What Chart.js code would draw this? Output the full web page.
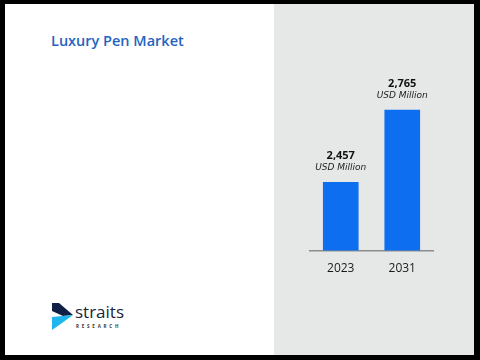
<!DOCTYPE html>
<html>
<head>
<meta charset="utf-8">
<script src="https://cdn.jsdelivr.net/npm/chart.js@4/dist/chart.umd.min.js"></script>
<style>
  html, body { margin:0; padding:0; width:480px; height:360px; background:#000; overflow:hidden; }
  #page { position:absolute; left:5px; top:4px; width:469px; height:351px; background:#ffffff; }
  #gray { position:absolute; left:274px; top:4px; width:200px; height:351px; background:#e6e8e8; }
  #title { position:absolute; left:51px; top:31px; font-family:"Open Sans", sans-serif; font-weight:600; font-size:14.5px; color:#2563c2; white-space:nowrap; }
  #wrap { position:absolute; left:274px; top:4px; width:200px; height:351px; }
  #logo { position:absolute; left:51px; top:302px; width:80px; height:30px; }
  #logo .word { position:absolute; left:24px; top:-2px; font-family:"Open Sans", sans-serif; font-size:17px; font-weight:500; color:#1b1f3b; }
  #logo .sub { position:absolute; left:25px; top:21px; font-family:"Open Sans", sans-serif; font-size:4.5px; font-weight:700; color:#333; letter-spacing:2.8px; }
</style>
</head>
<body>
<div id="page"></div>
<div id="gray"></div>
<div id="title">Luxury Pen Market</div>
<div id="logo">
  <svg width="24" height="30" viewBox="0 0 24 30" style="position:absolute;left:0;top:0">
    <polygon points="1,1 8,1 22,13 12,14 1,9" fill="#0f1f45"/>
    <polygon points="1,15 22,13 11,21 1,28" fill="#1fb6ee"/>
  </svg>
  <div class="word">straits</div>
  <div class="sub">RESEARCH</div>
</div>
<div id="wrap"><canvas id="c" width="200" height="351"></canvas></div>
<script>
const categories = ["2023", "2031"];
const values = [2457, 2765];
const unitLabel = "USD Million";

const labelPlugin = {
  id: 'valueLabels',
  afterDatasetsDraw(chart) {
    const ctx = chart.ctx;
    const meta = chart.getDatasetMeta(0);
    ctx.save();
    ctx.textAlign = 'center';
    ctx.textBaseline = 'middle';
    meta.data.forEach((bar, i) => {
      ctx.fillStyle = '#111';
      ctx.font = 'bold 11px "Open Sans", sans-serif';
      ctx.fillText(values[i].toLocaleString('en-US'), bar.x, bar.y - 26.5);
      ctx.font = 'italic 9px "DejaVu Sans", sans-serif';
      ctx.fillStyle = '#222';
      ctx.fillText(unitLabel, bar.x, bar.y - 15);
    });
    ctx.restore();
  }
};

new Chart(document.getElementById('c'), {
  type: 'bar',
  data: {
    labels: categories,
    datasets: [{
      data: values,
      backgroundColor: '#0d6ef0',
      barThickness: 35,
      borderWidth: 0
    }]
  },
  options: {
    responsive: false,
    animation: false,
    devicePixelRatio: 1,
    layout: { padding: { left: 36, right: 41, top: 56, bottom: 68 } },
    plugins: { legend: { display: false }, tooltip: { enabled: false } },
    scales: {
      x: {
        grid: { display: false, drawTicks: false },
        border: { display: true, color: '#8c8c8c', width: 1.5 },
        ticks: { padding: 11, color: '#1a1a1a', font: { family: '"Open Sans", sans-serif', size: 12 } }
      },
      y: {
        display: false,
        min: 2166,
        max: 2979
      }
    }
  },
  plugins: [labelPlugin]
});
</script>
</body>
</html>
